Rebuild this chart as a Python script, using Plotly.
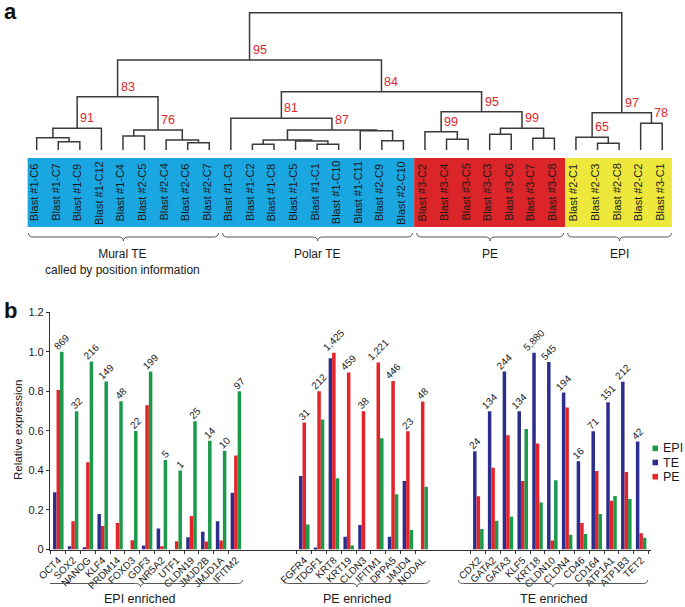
import plotly.graph_objects as go

W, H = 685, 607
FONT = "Liberation Sans, Arial, sans-serif"

# ---------------- panel a : hierarchical clustering ----------------
LEAVES = ["Blast #1-C6", "Blast #1-C7", "Blast #1-C9", "Blast #1-C12", "Blast #1-C4",
          "Blast #2-C5", "Blast #2-C4", "Blast #2-C6", "Blast #2-C7",
          "Blast #1-C3", "Blast #1-C2", "Blast #1-C8", "Blast #1-C5", "Blast #1-C1",
          "Blast #1-C10", "Blast #1-C11", "Blast #2-C9", "Blast #2-C10",
          "Blast #3-C2", "Blast #3-C4", "Blast #3-C5", "Blast #3-C3", "Blast #3-C6",
          "Blast #3-C7", "Blast #3-C8",
          "Blast #2-C1", "Blast #2-C3", "Blast #2-C8", "Blast #2-C2", "Blast #3-C1"]
LEAF_CLASS = ["TE"] * 18 + ["PE"] * 7 + ["EPI"] * 5

# merges: node id = 30 + index
MERGE_LEFT = [1, 0, 31, 7, 6, 4, 35, 32, 10, 13, 12, 38, 16, 15, 41, 9,
              19, 18, 21, 23, 48, 47, 45, 37, 26, 25, 28, 55, 53]
MERGE_RIGHT = [2, 30, 3, 8, 33, 5, 34, 36, 11, 14, 39, 40, 17, 42, 43, 44,
               20, 46, 22, 24, 49, 50, 51, 52, 27, 54, 29, 56, 57]
MERGE_HEIGHT = [0.060, 0.090, 0.158, 0.053, 0.073, 0.102, 0.146, 0.388,
                0.042, 0.042, 0.066, 0.073, 0.068, 0.140, 0.146, 0.231,
                0.078, 0.133, 0.114, 0.085, 0.158, 0.279, 0.425, 0.655,
                0.049, 0.092, 0.194, 0.272, 1.000]
MERGE_SUPPORT = [None, None, "91", None, None, None, "76", "83",
                 None, None, None, None, None, None, "87", "81",
                 None, "99", None, None, "99", "95", "84", "95",
                 None, "65", "78", "97", None]

TOP_GROUPS = ["Mural TE<br>called by position information", "Polar TE", "PE", "EPI"]
TOP_GROUP_SIZES = [9, 9, 7, 5]

# ---------------- panel b : relative expression ----------------
SERIES = ["TE", "PE", "EPI"]
GROUP_TITLES = ["EPI enriched", "PE enriched", "TE enriched"]
GROUP_ENRICHED = ["EPI", "PE", "TE"]

EPI_GENES = ["OCT4", "SOX2", "NANOG", "KLF4", "PRDM14", "FOXD3", "GDF3", "NR5A2",
             "UTF1", "CLDN19", "JMJD2B", "JMJD1A", "IFITM2"]
EPI_TE = [0.29, 0.017, 0.012, 0.18, 0.0, 0.0, 0.02, 0.106, 0.0, 0.062, 0.09, 0.143, 0.287]
EPI_PE = [0.807, 0.143, 0.441, 0.119, 0.134, 0.047, 0.73, 0.017, 0.042, 0.169, 0.04, 0.045, 0.475]
EPI_EPI = [1.0, 0.70, 0.951, 0.85, 0.75, 0.60, 0.90, 0.453, 0.40, 0.649, 0.55, 0.50, 0.80]
EPI_COUNTS = ["869", "32", "216", "149", "48", "22", "199", "5", "1", "25", "14", "10", "97"]

PE_GENES = ["FGFR4", "TDGF1", "KRT8", "KRT19", "CLDN3", "IFITM1", "DPPA5", "JMJD4", "NODAL"]
PE_TE = [0.372, 0.01, 0.967, 0.065, 0.124, 0.0, 0.065, 0.347, 0.0]
PE_PE = [0.643, 0.80, 0.995, 0.896, 0.70, 0.946, 0.853, 0.598, 0.749]
PE_EPI = [0.126, 0.658, 0.36, 0.02, 0.0, 0.563, 0.28, 0.099, 0.318]
PE_COUNTS = ["31", "212", "1,425", "459", "38", "1,221", "446", "23", "48"]

TE_GENES = ["CDX2", "GATA2", "GATA3", "KLF5", "KRT18", "CLDN10", "CLDN4", "CD46",
            "CD164", "ATP1A1", "ATP1B3", "TET2"]
TE_TE = [0.497, 0.70, 0.90, 0.70, 0.995, 0.948, 0.794, 0.447, 0.598, 0.745, 0.849, 0.546]
TE_PE = [0.27, 0.414, 0.578, 0.347, 0.536, 0.045, 0.719, 0.134, 0.397, 0.246, 0.392, 0.082]
TE_EPI = [0.104, 0.146, 0.166, 0.61, 0.238, 0.35, 0.074, 0.079, 0.179, 0.271, 0.255, 0.059]
TE_COUNTS = ["24", "134", "244", "134", "5,880", "545", "194", "16", "71", "151", "212", "42"]

Y_TICKS = [0, 0.2, 0.4, 0.6, 0.8, 1.0, 1.2]
Y_TICK_TEXT = ["0", "0.2", "0.4", "0.6", "0.8", "1.0", "1.2"]

# ---------------- styles / layout constants ----------------
SERIES_COLOR = {"TE": "#2b2e8c", "PE": "#e4232b", "EPI": "#1c9a4b"}
BAND_COLOR = {"TE": "#19a6e1", "PE": "#db2528", "EPI": "#efe83c"}
LEGEND_ORDER = ["EPI", "TE", "PE"]
LINE_COLOR = "#3a3a3a"
SUPPORT_COLOR = "#e0262b"

LEAF_X0_PX, LEAF_STEP_PX = 36.7, 21.57
HBASE_PX, HSCALE_PX = 150.0, 137.3
CAT_X0_PX, CAT_STEP_PX = 58.3, 14.8
GROUP_OFFSETS = [0.0, 16.62, 28.38]
AX_LEFT_PX, AX_RIGHT_PX = 50.0, 651.0
Y0_PX, YTOP_PX = 549.5, 312.3


def pyp(p):
    """pixel row -> paper y"""
    return 1 - p / H


# ---------------- build dendrogram segments ----------------
n = len(LEAVES)
node_x = {i: float(i) for i in range(n)}
node_h = {i: 0.0 for i in range(n)}
seg_x, seg_y = [], []
for k, (a, b, h) in enumerate(zip(MERGE_LEFT, MERGE_RIGHT, MERGE_HEIGHT)):
    xa, xb = node_x[a], node_x[b]
    seg_x += [xa, xa, xb, xb, None]
    seg_y += [node_h[a], h, h, node_h[b], None]
    node_x[n + k] = (xa + xb) / 2
    node_h[n + k] = h

fig = go.Figure()
fig.add_trace(go.Scatter(x=seg_x, y=seg_y, mode="lines", xaxis="x2", yaxis="y2",
                         line=dict(color=LINE_COLOR, width=1.5), hoverinfo="skip",
                         showlegend=False, cliponaxis=False))

annotations = []
shapes = []

# support values
for k, s in enumerate(MERGE_SUPPORT):
    if s is None:
        continue
    annotations.append(dict(x=node_x[n + k], y=node_h[n + k], xref="x2", yref="y2",
                            text=s, showarrow=False, xanchor="left", yanchor="bottom",
                            xshift=1, yshift=1,
                            font=dict(size=12.5, color=SUPPORT_COLOR, family=FONT)))

# coloured band
band_top, band_bot = 158, 227
start = 0
for i in range(1, n + 1):
    if i == n or LEAF_CLASS[i] != LEAF_CLASS[start]:
        x0 = start - 0.42 if start == 0 else start - 0.5
        x1 = i - 1 + 0.45 if i == n else i - 0.5
        shapes.append(dict(type="rect", xref="x2", yref="paper", x0=x0, x1=x1,
                           y0=pyp(band_bot), y1=pyp(band_top),
                           fillcolor=BAND_COLOR[LEAF_CLASS[start]], line=dict(width=0),
                           layer="below"))
        start = i

for i, lab in enumerate(LEAVES):
    annotations.append(dict(x=i, y=pyp((band_top + band_bot) / 2), xref="x2", yref="paper",
                            text=lab, textangle=-90, showarrow=False, xshift=-3,
                            xanchor="center", yanchor="middle",
                            font=dict(size=11, color="#1a1a1a", family=FONT)))


def brace(x0, x1, ytop, ybot, r, xref):
    ym = pyp((ytop + ybot) / 2)
    yt, yb = pyp(ytop), pyp(ybot)
    xc = (x0 + x1) / 2
    path = (f"M{x0},{yt} Q{x0},{ym} {x0 + r},{ym} L{xc - r},{ym} "
            f"Q{xc},{ym} {xc},{yb} Q{xc},{ym} {xc + r},{ym} "
            f"L{x1 - r},{ym} Q{x1},{ym} {x1},{yt}")
    return dict(type="path", path=path, xref=xref, yref="paper",
                line=dict(color="#555555", width=1))


first = 0
for g, size in zip(TOP_GROUPS, TOP_GROUP_SIZES):
    last = first + size - 1
    shapes.append(brace(first - 0.38, last + 0.42, 233, 241, 5 / LEAF_STEP_PX, "x2"))
    annotations.append(dict(x=(first + last) / 2, y=pyp(245), xref="x2", yref="paper",
                            text=g, showarrow=False, xanchor="center", yanchor="top",
                            font=dict(size=12, color="#1a1a1a", family=FONT)))
    first = last + 1

# ---------------- bar chart ----------------
genes_by_group = [EPI_GENES, PE_GENES, TE_GENES]
vals_by_group = [{"TE": EPI_TE, "PE": EPI_PE, "EPI": EPI_EPI},
                 {"TE": PE_TE, "PE": PE_PE, "EPI": PE_EPI},
                 {"TE": TE_TE, "PE": TE_PE, "EPI": TE_EPI}]
counts_by_group = [EPI_COUNTS, PE_COUNTS, TE_COUNTS]

xs, tick_text = [], []
for off, genes in zip(GROUP_OFFSETS, genes_by_group):
    for i, gname in enumerate(genes):
        xs.append(off + i)
        tick_text.append(gname)

for s in SERIES:
    ys, texts = [], []
    for genes, vals, counts, enr in zip(genes_by_group, vals_by_group, counts_by_group,
                                        GROUP_ENRICHED):
        ys += vals[s]
        texts += counts if enr == s else [""] * len(genes)
    fig.add_trace(go.Bar(x=xs, y=ys, name=s, marker=dict(color=SERIES_COLOR[s], line=dict(width=0)),
                         text=texts, textposition="outside", textangle=-45,
                         constraintext="none", cliponaxis=False,
                         textfont=dict(size=10, color="#222222", family=FONT),
                         showlegend=False, hoverinfo="skip"))

# legend (manual, compact)
for j, s in enumerate(LEGEND_ORDER):
    yc = 448.3 + j * 14.2
    shapes.append(dict(type="rect", xref="paper", yref="paper",
                       x0=652.5 / W, x1=658 / W, y0=pyp(yc + 2.8), y1=pyp(yc - 2.8),
                       fillcolor=SERIES_COLOR[s], line=dict(width=0)))
    annotations.append(dict(x=660.5 / W, y=pyp(yc), xref="paper", yref="paper", text=s,
                            showarrow=False, xanchor="left", yanchor="middle",
                            font=dict(size=12.5, color="#1a1a1a", family=FONT)))

# bottom braces + group labels
for off, genes, title in zip(GROUP_OFFSETS, genes_by_group, GROUP_TITLES):
    x0, x1 = off - 1.35, off + len(genes) - 1 + 0.45
    shapes.append(brace(x0, x1, 580, 587, 5 / CAT_STEP_PX, "x"))
    annotations.append(dict(x=(x0 + x1) / 2, y=pyp(599), xref="x", yref="paper", text=title,
                            showarrow=False, xanchor="center", yanchor="middle",
                            font=dict(size=12.5, color="#1a1a1a", family=FONT)))

# panel letters
annotations.append(dict(x=2 / W, y=pyp(11), xref="paper", yref="paper", text="<b>a</b>",
                        showarrow=False, xanchor="left", yanchor="middle",
                        font=dict(size=22, color="#111111", family=FONT)))
annotations.append(dict(x=2 / W, y=pyp(310), xref="paper", yref="paper", text="<b>b</b>",
                        showarrow=False, xanchor="left", yanchor="middle",
                        font=dict(size=22, color="#111111", family=FONT)))
# y-axis title
annotations.append(dict(x=18 / W, y=pyp(430), xref="paper", yref="paper",
                        text="Relative expression", textangle=-90, showarrow=False,
                        xanchor="center", yanchor="middle",
                        font=dict(size=11.5, color="#1a1a1a", family=FONT)))

minor_vals = [x - 0.5 for x in xs] + [xs[-1] + 0.5]

fig.update_layout(
    template="none",
    width=W, height=H, autosize=False,
    margin=dict(l=0, r=0, t=0, b=0, pad=0, autoexpand=False),
    paper_bgcolor="white", plot_bgcolor="rgba(0,0,0,0)",
    barmode="group", bargap=0.29, bargroupgap=0.0,
    font=dict(family=FONT, color="#1a1a1a"),
    showlegend=False,
    xaxis=dict(domain=[AX_LEFT_PX / W, AX_RIGHT_PX / W],
               range=[(AX_LEFT_PX - CAT_X0_PX) / CAT_STEP_PX,
                      (AX_RIGHT_PX - CAT_X0_PX) / CAT_STEP_PX],
               tickmode="array", tickvals=xs, ticktext=tick_text, tickangle=-45,
               ticks="", showgrid=False, zeroline=False, automargin=False,
               showline=True, linecolor="#333333", linewidth=1.2,
               tickfont=dict(size=10, color="#1a1a1a", family=FONT),
               minor=dict(tickmode="array", tickvals=minor_vals, ticks="outside",
                          ticklen=3, tickcolor="#333333", showgrid=False),
               anchor="y"),
    yaxis=dict(domain=[pyp(Y0_PX), pyp(YTOP_PX)], range=[0, 1.2],
               tickmode="array", tickvals=Y_TICKS, ticktext=Y_TICK_TEXT,
               ticks="outside", ticklen=3, tickcolor="#333333", automargin=False,
               showgrid=False, zeroline=False, showline=True, linecolor="#333333",
               linewidth=1.2, tickfont=dict(size=11, color="#1a1a1a", family=FONT),
               anchor="x"),
    xaxis2=dict(domain=[0, 1], range=[-LEAF_X0_PX / LEAF_STEP_PX,
                                      (W - LEAF_X0_PX) / LEAF_STEP_PX],
                visible=False, anchor="y2", automargin=False),
    yaxis2=dict(domain=[0, 1], range=[(HBASE_PX - H) / HSCALE_PX, HBASE_PX / HSCALE_PX],
                visible=False, anchor="x2", automargin=False),
    shapes=shapes,
    annotations=annotations,
)

fig.write_html("out.html", config={"displayModeBar": False},
               post_script="document.body.style.margin='0';document.body.style.overflow='hidden';")
